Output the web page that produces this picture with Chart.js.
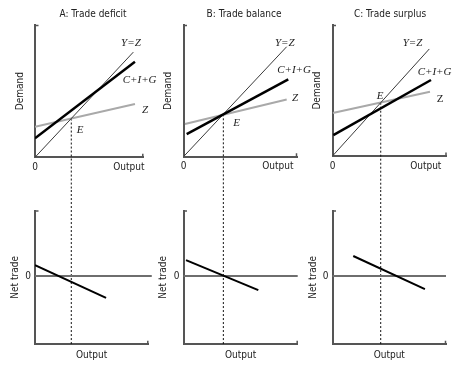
<!DOCTYPE html>
<html><head><meta charset="utf-8">
<script src="https://cdn.jsdelivr.net/npm/chart.js@4.4.1/dist/chart.umd.min.js"></script>
<style>
html,body{margin:0;padding:0;background:#fff;}
body{width:474px;height:375px;position:relative;overflow:hidden;}
canvas.c{position:absolute;}
</style></head><body>
<script>
// ---------- data (per panel A, B, C) ----------
const panelTitles = ['A: Trade deficit', 'B: Trade balance', 'C: Trade surplus'];
const yEqualsZ   = [[[0, 0], [9.08, 7.95]], [[0, 0], [9.09, 8.35]], [[0, 0], [8.49, 8.17]]];
const cigLine    = [[[0, 1.44], [9.23, 7.23]], [[0.28, 1.72], [9.23, 5.87]], [[0.07, 1.6], [8.64, 5.8]]];
const zLine      = [[[0, 2.3], [9.23, 4.03]], [[0.13, 2.49], [9.09, 4.35]], [[0.02, 3.28], [8.55, 4.91]]];
const equilibrium = [[3.35, 2.93], [3.51, 3.22], [4.23, 4.07]];
const netTrade   = [[[0, 0.84], [6.56, -1.66]], [[0.22, 1.22], [6.59, -1.07]], [[1.82, 1.53], [8.11, -0.99]]];
const zeroLineEnd = [10.78, 10.06, 9.96];
const outputTick = [8.66, 8.31, 8.18];
const curveLabels = [
  [['Y=Z', 8.86, 8.64, true], ['C+I+G', 9.66, 5.8, true], ['Z', 10.16, 3.58, true], ['E', 4.16, 2.07, true]],
  [['Y=Z', 8.92, 8.61, true], ['C+I+G', 9.74, 6.58, true], ['Z', 9.82, 4.43, true], ['E', 4.69, 2.58, true]],
  [['Y=Z', 7.02, 8.6, true], ['C+I+G', 8.95, 6.44, true], ['Z', 9.43, 4.33, false], ['E', 4.17, 4.58, true]]
];
const topRange = {xMax: [10, 10, 10], yMin: 0, yMax: 10};
const botRange = {xMax: [10.46, 10.06, 9.96], yMin: -5.2, yMax: 5};

// ---------- layout / style ----------
const topLayout = [
  {L: 0,   W: 186, left: 35,    right: 143.3, bottom: 157.3, tpad: 14},
  {L: 150, W: 188, left: 183.5, right: 297,   bottom: 156.7, tpad: 12},
  {L: 310, W: 160, left: 332.5, right: 446.5, bottom: 156,   tpad: 1.5}
];
const botLayout = [
  {L: 0,   W: 160, left: 35,    right: 148.3, top: 210.5, bottom: 344.3, tpad: 9.3},
  {L: 150, W: 160, left: 183.5, right: 297.7, top: 210.5, bottom: 344.3, tpad: 7},
  {L: 305, W: 165, left: 332.5, right: 446,   top: 210.5, bottom: 344.3, tpad: 2.5}
];
const TOP_H = 190, BOT_T = 190, BOT_H = 185;
const sansFont = "'Liberation Sans Narrow', 'DejaVu Sans Condensed', 'Roboto Condensed', 'Arial Narrow', Roboto, sans-serif";
const serifFont = "'Liberation Serif', 'DejaVu Serif', serif";
const axisColor = '#555555';
const textColor = '#222222';

const pts = arr => arr.map(([x, y]) => ({x, y}));

function makeCanvas(L, T, W, H) {
  const c = document.createElement('canvas');
  c.className = 'c';
  c.width = W; c.height = H;
  c.style.left = L + 'px'; c.style.top = T + 'px';
  c.style.width = W + 'px'; c.style.height = H + 'px';
  document.body.appendChild(c);
  return c;
}

const axisEnds = {
  id: 'axisEnds',
  afterDraw(chart) {
    const {ctx, chartArea: a} = chart;
    ctx.save();
    ctx.strokeStyle = axisColor; ctx.lineWidth = 1.5;
    ctx.beginPath();
    ctx.moveTo(a.left, a.top + 0.5); ctx.lineTo(a.left + 3.5, a.top + 0.5);
    ctx.moveTo(a.right - 0.5, a.bottom); ctx.lineTo(a.right - 0.5, a.bottom - 3.5);
    ctx.stroke();
    ctx.restore();
  }
};

function labelPlugin(items) {
  return {
    id: 'curveLabels',
    afterDatasetsDraw(chart) {
      const {ctx, scales} = chart;
      ctx.save();
      ctx.fillStyle = textColor;
      ctx.textAlign = 'center'; ctx.textBaseline = 'middle';
      items.forEach(([t, x, y, it]) => {
        ctx.font = (it ? 'italic ' : '') + '11px ' + serifFont;
        ctx.fillText(t, scales.x.getPixelForValue(x), scales.y.getPixelForValue(y));
      });
      ctx.restore();
    }
  };
}

const common = {
  responsive: false, animation: false, events: [],
  plugins: {legend: {display: false}, tooltip: {enabled: false}}
};

function lineDs(data, color, width, extra) {
  return Object.assign({data: pts(data), showLine: true, borderColor: color, backgroundColor: color,
    borderWidth: width, pointRadius: 0, fill: false, tension: 0}, extra || {});
}

// ---------- top row ----------
for (let i = 0; i < 3; i++) {
  const g = topLayout[i];
  const cv = makeCanvas(g.L, 0, g.W, TOP_H);
  const E = equilibrium[i];
  new Chart(cv, {
    type: 'scatter',
    data: {datasets: [
      lineDs(cigLine[i], '#000000', 2.5),
      lineDs(yEqualsZ[i], '#3a3a3a', 1),
      lineDs(zLine[i], '#a9a9a9', 2),
      lineDs([[E[0], E[1]], [E[0], -6]], '#111111', 1, {borderDash: [2, 2], clip: false})
    ]},
    options: Object.assign({}, common, {
      layout: {padding: {left: 0, right: 0, top: 0, bottom: 0}},
      plugins: Object.assign({}, common.plugins, {
        title: {display: true, text: panelTitles[i], color: textColor, fullSize: true,
          font: {family: sansFont, size: 10, weight: 'normal', lineHeight: 1.2},
          padding: {top: 8, bottom: 5}}
      }),
      scales: {
        x: {type: 'linear', min: 0, max: topRange.xMax[i],
          grid: {display: false, drawTicks: false},
          border: {display: true, color: axisColor, width: 2},
          afterBuildTicks: s => { s.ticks = [{value: 0}, {value: outputTick[i]}]; },
          ticks: {autoSkip: false, maxRotation: 0, minRotation: 0, padding: 4, color: textColor,
            font: {family: sansFont, size: 10}, callback: (v, idx) => idx === 0 ? '0' : 'Output'},
          afterFit: s => { s.height = TOP_H - g.bottom; }
        },
        y: {type: 'linear', min: topRange.yMin, max: topRange.yMax,
          grid: {display: false, drawTicks: false},
          border: {display: true, color: axisColor, width: 2},
          ticks: {display: false},
          title: {display: true, text: 'Demand', color: textColor,
            font: {family: sansFont, size: 10, lineHeight: 1.2}, padding: {top: g.tpad, bottom: 0}},
          afterFit: s => { s.width = g.left - g.L; }
        },
        padR: {type: 'linear', position: 'right', display: true,
          grid: {display: false, drawTicks: false}, border: {display: false},
          ticks: {display: false},
          afterFit: s => { s.width = g.L + g.W - g.right; }
        }
      }
    }),
    plugins: [axisEnds, labelPlugin(curveLabels[i])]
  });
}

// ---------- bottom row ----------
for (let i = 0; i < 3; i++) {
  const g = botLayout[i];
  const cv = makeCanvas(g.L, BOT_T, g.W, BOT_H);
  const E = equilibrium[i];
  new Chart(cv, {
    type: 'scatter',
    data: {datasets: [
      lineDs(netTrade[i], '#000000', 2),
      lineDs([[0, 0], [zeroLineEnd[i], 0]], '#6e6e6e', 2, {clip: false}),
      lineDs([[E[0], 9], [E[0], botRange.yMin]], '#111111', 1, {borderDash: [2, 2], clip: false})
    ]},
    options: Object.assign({}, common, {
      layout: {padding: {left: 0, right: g.L + g.W - g.right, top: g.top - BOT_T, bottom: 0}},
      scales: {
        x: {type: 'linear', min: 0, max: botRange.xMax[i],
          grid: {display: false, drawTicks: false},
          border: {display: true, color: axisColor, width: 2},
          ticks: {display: false},
          title: {display: true, text: 'Output', color: textColor,
            font: {family: sansFont, size: 10, lineHeight: 1.2}, padding: {top: 0, bottom: 13.5}},
          afterFit: s => { s.height = BOT_T + BOT_H - g.bottom; }
        },
        y: {type: 'linear', min: botRange.yMin, max: botRange.yMax,
          grid: {display: false, drawTicks: false},
          border: {display: true, color: axisColor, width: 2},
          afterBuildTicks: s => { s.ticks = [{value: 0}]; },
          ticks: {autoSkip: false, padding: 4, color: textColor, font: {family: sansFont, size: 10},
            callback: () => '0'},
          title: {display: true, text: 'Net trade', color: textColor,
            font: {family: sansFont, size: 10, lineHeight: 1.2}, padding: {top: g.tpad, bottom: 0}},
          afterFit: s => { s.width = g.left - g.L; }
        }
      }
    }),
    plugins: [axisEnds]
  });
}
</script>
</body></html>
